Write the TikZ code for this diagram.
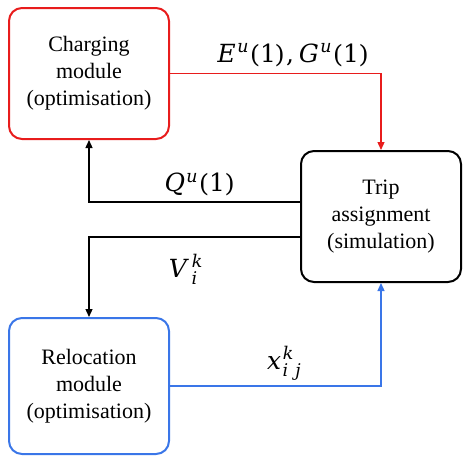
\documentclass[tikz,border=0pt]{standalone}
\usepackage{fontspec}
\usepackage{unicode-math}
\setmainfont{Liberation Serif}
\setmathfont{DejaVu Math TeX Gyre}
\usetikzlibrary{arrows.meta, positioning}
\definecolor{chargered}{RGB}{232,28,28}
\definecolor{relocblue}{RGB}{58,118,232}

\begin{document}
\begin{tikzpicture}[x=1pt, y=1pt,
	every node/.style={font=\fontsize{22}{27}\selectfont},
	module/.style={rectangle, rounded corners=13pt, line width=2pt, text width=150pt, align=center, minimum width=160pt, minimum height=131pt, inner sep=0pt},
	arrow/.style={line width=1.3pt, -{Triangle[length=8pt, width=7pt]}},
	signal/.style={font=\fontsize{25}{30}\selectfont, inner sep=2pt}
	]
	\useasboundingbox (0,0) rectangle (474,-467);
	
	% Nodes
	\node[module, draw=chargered] (charging) at (89,-73.5) {Charging\\module\\(optimisation)};
	\node[module, draw=black] (trip) at (381,-216.5) {Trip\\assignment\\(simulation)};
	\node[module, draw=relocblue, minimum height=136pt] (relocation) at (89,-386) {Relocation\\module\\(optimisation)};
	
	% Arrows
	\draw[arrow, chargered] (charging.east) -| node[signal, above=4pt, pos=0.29, text=black] {$E^u(1), G^u(1)$} (trip.north);
	\draw[arrow] ([yshift=14.5pt]trip.west) -| node[signal, above=3pt, pos=0.237] {$Q^u(1)$} (charging.south);
	\draw[arrow] ([yshift=-20.5pt]trip.west) -| node[signal, below=15pt, pos=0.27] {$V_i^k$} (relocation.north);
	\draw[arrow, relocblue] (relocation.east) -| node[signal, above=3pt, pos=0.27, text=black] {$x_{i\,j}^{k}$} (trip.south);
\end{tikzpicture}
\end{document}
